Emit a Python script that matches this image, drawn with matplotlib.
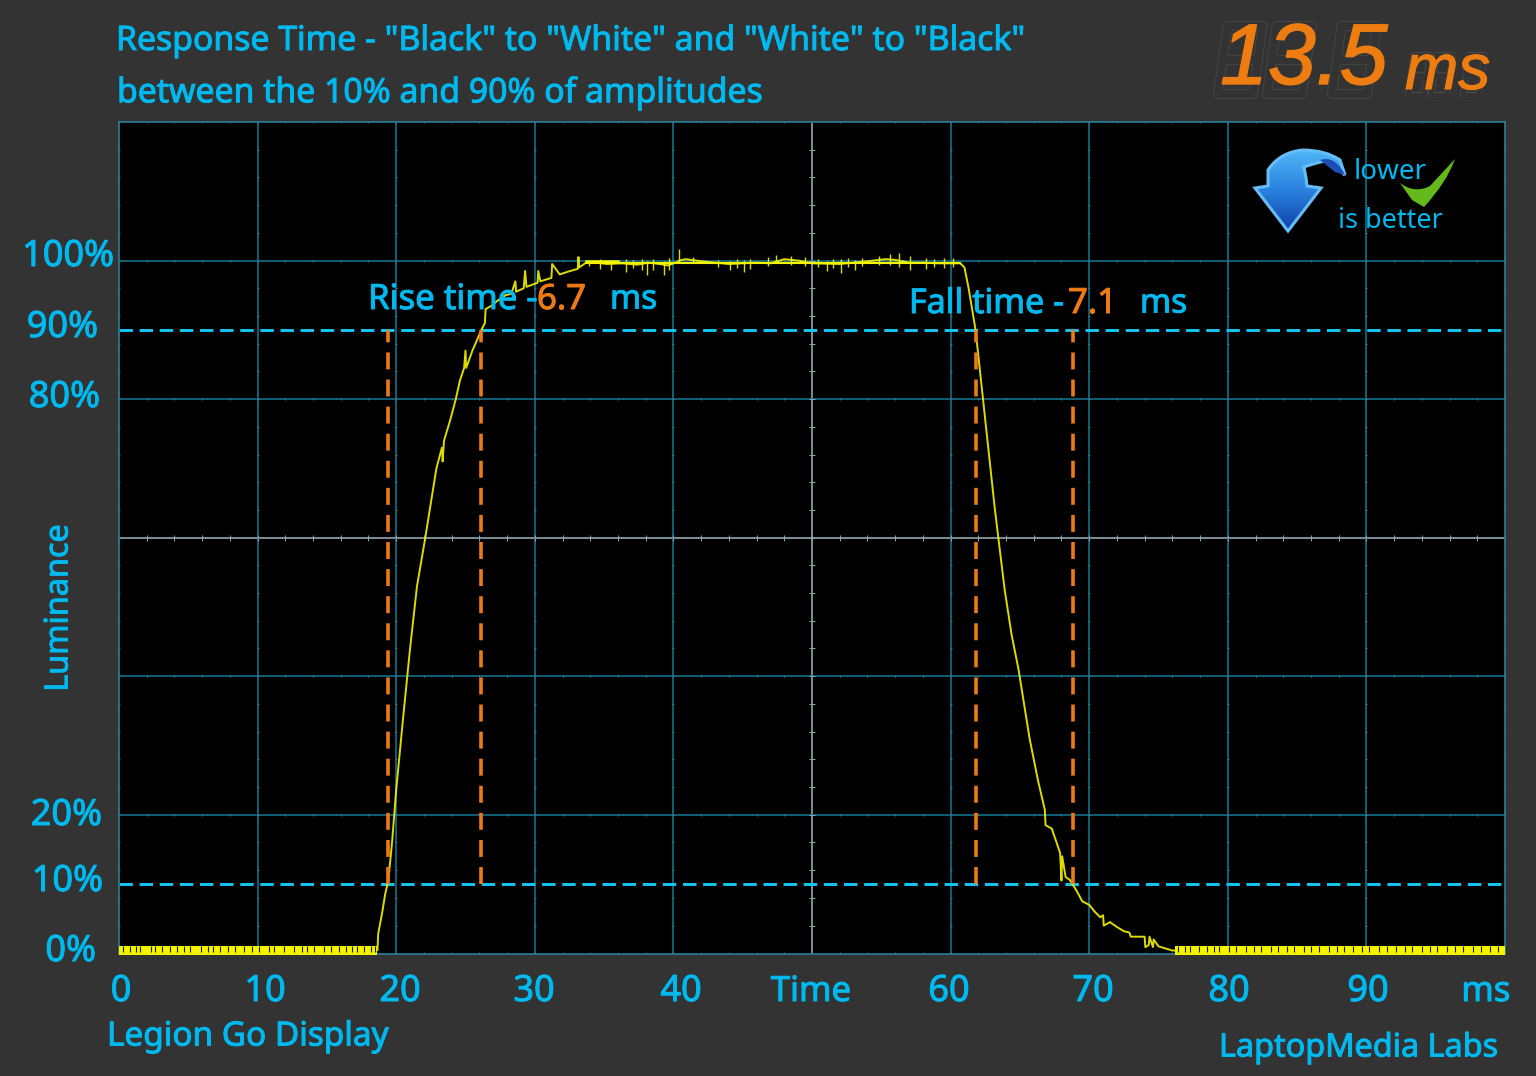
#!/usr/bin/env python3
import numpy as np
import matplotlib
matplotlib.use('Agg')
import matplotlib.pyplot as plt
import matplotlib.patheffects as pe
from matplotlib.patches import PathPatch
from matplotlib.path import Path

W, H = 1536, 1076
plt.rcParams['font.family'] = ['Noto Sans', 'DejaVu Sans']

# ==================== data ====================
rise_t = [18.65, 18.7, 19.0, 19.2, 19.43, 19.7, 20.0, 20.5, 21.0, 21.5, 22.1, 22.5, 22.9, 23.3, 23.35, 23.45, 23.9,
          24.3, 24.6, 24.9, 25.0, 25.05, 25.5, 26.15, 26.4, 26.45, 26.9, 27.3, 27.9, 28.3, 28.6, 28.65, 29.2, 29.3,
          29.4, 30.2, 30.25, 30.4, 31.2, 31.25, 31.8, 32.4, 33.1, 33.15, 33.2, 33.7]
rise_v = [0.5, 2.8, 6, 8.5, 10.5, 16, 23.6, 34, 44, 53, 60, 65, 70, 73, 71, 74, 77, 80, 82.7, 84.5, 87, 84.5, 87, 90,
          91, 93, 93.5, 94.2, 95, 95.2, 97, 95.5, 96, 98.5, 96.2, 96.8, 98.5, 97, 97.5, 99.5, 98, 98.4, 98.8, 100.5,
          99, 99.7]
plateau_t = [34.5, 35.2, 36.3, 37.4, 38.2, 39.0, 39.6, 40.3, 40.4, 40.9, 42.0, 44.0, 46.0, 47.0, 48.0, 49.0, 50.0,
             52.0, 54.0, 55.3, 56.0, 57.0, 58.0, 59.0, 60.3]
plateau_v = [99.7, 99.5, 99.6, 99.4, 99.7, 99.5, 99.3, 99.8, 100.0, 100.2, 99.9, 99.5, 99.7, 99.6, 100.2, 100.0, 99.6,
             99.5, 99.9, 100.2, 100.1, 99.7, 99.7, 99.6, 99.6]
fall_t = [60.7, 61.0, 61.3, 61.8, 62.5, 63.2, 63.9, 64.4, 64.9, 65.3, 65.7, 66.3, 66.8, 66.85, 67.3, 67.9, 68.0, 68.05,
          68.3, 68.6, 69.1, 69.5, 70.0, 70.4, 70.8, 71.0, 71.05, 71.5, 72.0, 72.5, 72.9, 73.0, 74.0, 74.05, 74.3,
          74.35, 74.6, 74.65, 75.0, 75.5, 76.0, 76.5]
fall_v = [99.6, 99, 96, 90, 77, 64, 52.5, 46, 41, 36, 31, 25, 20.7, 18.5, 18, 14.5, 10.5, 14, 11, 10.6, 9, 7.5, 7, 6,
          5.2, 5.5, 4, 4.5, 3.8, 3.2, 3, 2.4, 2.4, 0.9, 1.2, 2.4, 0.9, 2, 1.0, 0.7, 0.4, 0.4]

# spikes around the plateau
spike_t = [33.9, 34.7, 35.5, 36.6, 37.1, 37.7, 38.1, 38.5, 39.3, 39.7, 40.4, 41.4, 43.2, 44.1, 44.6, 45.1, 45.5, 46.8,
           47.4, 48.5, 49.5, 50.4, 51.1, 51.5, 52.1, 52.6, 53.1, 53.6, 54.8, 55.6, 56.3, 57.1, 58.2, 58.8, 59.5, 60.2]
spike_lo = [99.2, 98.8, 98.7, 98.4, 98.9, 98.6, 97.9, 98.7, 97.9, 98.6, 99.8, 99.7, 99.1, 98.6, 98.9, 98.4, 98.8, 99.2,
            99.6, 99.3, 99.2, 99.0, 98.5, 98.9, 98.2, 99.0, 98.7, 99.2, 99.3, 99.4, 99.1, 98.7, 98.8, 99.1, 98.9, 99.0]
spike_hi = [100.1, 100.2, 100.0, 100.2, 100.1, 100.2, 100.0, 100.2, 99.9, 100.3, 101.6, 100.5, 100.1, 100.0, 100.2,
            100.1, 100.2, 100.5, 100.8, 100.6, 100.5, 100.2, 100.0, 100.2, 100.2, 100.3, 100.1, 100.4, 100.6, 100.9,
            101.1, 100.6, 100.3, 100.2, 100.3, 100.3]

# dark notches in the zero band
notch_left = [0.3, 0.8, 1.2, 1.5, 2.3, 2.6, 3.1, 3.7, 4.2, 4.7, 5.1, 5.9, 6.4, 6.8, 7.3, 7.9, 8.4, 9.0, 9.6, 10.1,
              10.8, 11.2, 11.9, 12.6, 13.2, 13.6, 14.1, 14.8, 15.3, 15.9, 16.4, 16.8, 17.2, 17.7, 18.2, 18.5]
notch_right = [76.4, 76.9, 77.3, 77.9, 78.5, 79.0, 79.4, 80.1, 80.6, 81.3, 81.9, 82.4, 83.1, 83.6, 84.3, 84.8, 85.5,
               86.0, 86.6, 87.3, 87.9, 88.4, 89.0, 89.7, 90.2, 90.9, 91.5, 92.1, 92.8, 93.3, 94.0, 94.6, 95.1, 95.8,
               96.4, 97.0, 97.7, 98.3, 98.9, 99.5]

rise_marks = [19.43, 26.15]
fall_marks = [61.8, 68.83]
levels = [90, 10]

title_lines = ['Response Time - "Black" to "White" and "White" to "Black"', 'between the 10% and 90% of amplitudes']
y_labels = ['100%', '90%', '80%', '20%', '10%', '0%']
x_labels = ['0', '10', '20', '30', '40', 'Time', '60', '70', '80', '90', 'ms']

BG = '#333333'
BLUE = '#00b9ef'
ORANGE = '#ee7a14'
GRID = '#13708c'
CENTER = '#8fa7b0'
DASH = '#14c8f4'
YELLOW = '#f4f400'
READOUT = '#ee7d11'

fig = plt.figure(figsize=(W / 100, H / 100), dpi=100, facecolor=BG)


def fx(px):
    return px / W


def fy(py):
    return 1 - py / H


def put(px, py, s, size, ha='left', color=BLUE, stroke=0.7, **kw):
    t = fig.text(fx(px), fy(py), s, fontsize=size, color=color, ha=ha, va='center', **kw)
    if stroke:
        t.set_path_effects([pe.withStroke(linewidth=stroke, foreground=color)])
    return t


# ==================== plot area ====================
ax = fig.add_axes([fx(119), fy(954), fx(1505 - 119), fy(122) - fy(954)], facecolor='black')
ax.set_xlim(0, 100)
ax.set_ylim(-0.1, 120)
ax.set_xticks([])
ax.set_yticks([])
for s in ax.spines.values():
    s.set_color('#2a7f99')
    s.set_linewidth(1.2)

for x in np.arange(10, 100, 10):
    ax.axvline(x, color=CENTER if x == 50 else GRID, lw=1.2, zorder=1)
for y in np.arange(20, 120, 20):
    ax.axhline(y, color=CENTER if y == 60 else GRID, lw=1.2, zorder=1)

# small ticks on the grid
tx = np.arange(2, 100, 2)
ty = np.arange(4, 120, 4)
for y in np.arange(0, 121, 20):
    ax.plot(tx, np.full(tx.size, y), ls='none', marker='|', ms=5 if y == 60 else 1.5, mew=0.7,
            color=CENTER if y == 60 else '#5f6f75', zorder=1.5)
for x in np.arange(0, 101, 10):
    ax.plot(np.full(ty.size, x), ty, ls='none', marker='_', ms=5 if x == 50 else 1.5, mew=0.7,
            color=CENTER if x == 50 else '#5f6f75', zorder=1.5)

# 90% / 10% levels
for y in levels:
    ax.axhline(y, color=DASH, lw=2.1, dashes=(4.6, 2.3), zorder=2)

# trace
trace_t = rise_t + plateau_t + fall_t
trace_v = rise_v + plateau_v + fall_v
ax.plot(trace_t, trace_v, color=YELLOW, lw=1.4, alpha=0.9, zorder=3)
ax.vlines(spike_t, spike_lo, spike_hi, color=YELLOW, lw=1.0, alpha=0.9, zorder=3)
ax.plot([33.7, 60.7], [99.7, 99.7], color=YELLOW, lw=1.5, zorder=3)
ax.plot([33.7, 36], [99.9, 99.9], color=YELLOW, lw=1.8, zorder=3)

# zero band
band_ends = [(0, 18.65), (76.2, 100)]
for a, b in band_ends:
    ax.fill_between([a, b], -0.3, 1.0, color=YELLOW, lw=0, zorder=3, clip_on=False)
ax.vlines(notch_left + notch_right, 0.25, 1.0, color='#1c1c00', lw=0.8, zorder=3.2)

# marker lines
for t in rise_marks + fall_marks:
    ax.plot([t, t], [10, 90], color=ORANGE, lw=2.6, dashes=(4.7, 2.8), zorder=4)

# ==================== texts ====================
put(116, 41, title_lines[0], 24.3)
put(117, 93, title_lines[1], 24.3)

y_pos = [(114, 257), (98, 328), (100, 398), (102, 816), (103, 882), (96, 952)]
for s, (px, py) in zip(y_labels, y_pos):
    put(px, py, s, 26, ha='right')

x_pos = [121, 265, 400, 534, 681, 811, 949, 1093, 1229, 1368, 1486]
for s, px in zip(x_labels, x_pos):
    put(px, 992, s, 25 if s in ('Time', 'ms') else 26, ha='center')

put(59, 608, 'Luminance', 23.3, ha='center', rotation=90)
put(107, 1037, 'Legion Go Display', 24)
put(1498, 1048, 'LaptopMedia Labs', 23.3, ha='right')

put(368, 300, 'Rise time -', 25)
put(537, 300, '6.7', 25, color=ORANGE)
put(610, 300, 'ms', 24)
put(909, 304, 'Fall time -', 24.5)
put(1068, 304, '7.1', 25, color=ORANGE)
put(1140, 304, 'ms', 24)

put(1390, 172, 'lower', 20, ha='center', stroke=0)
put(1390, 221, 'is better', 19.5, ha='center', stroke=0)

# ==================== digital readout ====================
overlay = fig.add_axes([0, 0, 1, 1], facecolor='none')
overlay.set_xlim(0, W)
overlay.set_ylim(H, 0)
overlay.axis('off')


def ghost_digit(x0, y0, w, h, lw):
    lean = 0.14 * h
    pts = {'a': (0, 0), 'b': (w, 0), 'c': (0, h / 2), 'd': (w, h / 2), 'e': (0, h), 'f': (w, h)}
    segs = [('a', 'b'), ('a', 'c'), ('b', 'd'), ('c', 'd'), ('c', 'e'), ('d', 'f'), ('e', 'f')]
    for p, q in segs:
        xs = [x0 + pts[k][0] + lean * (1 - pts[k][1] / h) for k in (p, q)]
        ys = [y0 + pts[k][1] for k in (p, q)]
        overlay.plot(xs, ys, color='#474747', lw=lw, solid_capstyle='round', zorder=1)
        overlay.plot(xs, ys, color=BG, lw=lw - 1.2, solid_capstyle='round', zorder=1.1)


for x0 in (1218, 1267, 1332):
    ghost_digit(x0, 26, 35, 68, 7)
for x0 in (1408, 1431, 1463):
    ghost_digit(x0, 55, 16, 40, 4.5)

put(1220, 62, '13.5', 62, color=READOUT, style='italic', family='Liberation Sans', stroke=1.0, zorder=5)
put(1405, 72, 'ms', 46, color=READOUT, style='italic', family='Liberation Sans', stroke=0.8, zorder=5)

# ==================== "lower is better" logo ====================
arrow_xy = [(1255, 188), (1268, 186), (1268, 170), (1280, 152), (1303, 150), (1325, 150), (1340, 160), (1345, 175),
            (1337, 168), (1325, 161), (1315, 163), (1304, 167), (1306, 178), (1307, 186), (1321, 188), (1288, 231),
            (1255, 188)]
arrow_codes = [Path.MOVETO, Path.LINETO, Path.LINETO, Path.CURVE3, Path.CURVE3, Path.CURVE3, Path.CURVE3, Path.LINETO,
               Path.CURVE3, Path.CURVE3, Path.CURVE3, Path.CURVE3, Path.LINETO, Path.LINETO, Path.LINETO, Path.LINETO,
               Path.CLOSEPOLY]
arrow = PathPatch(Path(arrow_xy, arrow_codes), facecolor='none', edgecolor='#66bdf7', lw=2.2, zorder=3)
grad = np.linspace(0, 1, 256).reshape(-1, 1)
cmap = matplotlib.colors.LinearSegmentedColormap.from_list('arrow', ['#4fb6f7', '#2a80de', '#0c3fa6'])
im = overlay.imshow(grad, extent=(1250, 1350, 232, 150), cmap=cmap, aspect='auto', zorder=2)
overlay.add_patch(arrow)
im.set_clip_path(arrow)
overlay.set_xlim(0, W)
overlay.set_ylim(H, 0)

tip = Path([(1320, 160), (1335, 155), (1345, 175), (1335, 172), (1320, 160)],
           [Path.MOVETO, Path.CURVE3, Path.CURVE3, Path.LINETO, Path.CLOSEPOLY])
overlay.add_patch(PathPatch(tip, facecolor='#1b4fb5', edgecolor='none', zorder=3.5))

check = Path([(1400, 183), (1415, 194), (1430, 186), (1455, 159), (1447, 182), (1424, 207), (1412, 200), (1400, 183)],
             [Path.MOVETO, Path.CURVE3, Path.CURVE3, Path.LINETO, Path.CURVE3, Path.CURVE3, Path.LINETO,
              Path.CLOSEPOLY])
overlay.add_patch(PathPatch(check, facecolor='#63ba1a', edgecolor='none', zorder=2))

fig.savefig('out.png', dpi=100, facecolor=BG)
